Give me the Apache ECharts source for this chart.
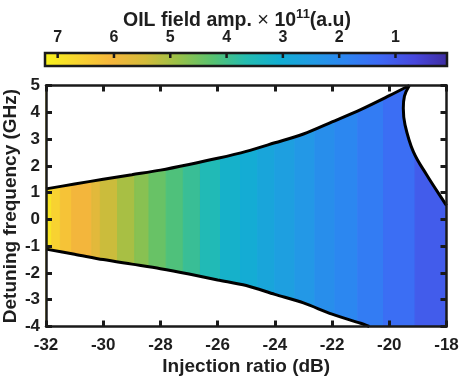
<!DOCTYPE html>
<html><head><meta charset="utf-8">
<script src="https://cdn.jsdelivr.net/npm/echarts@6/dist/echarts.min.js"></script>
<style>html,body{margin:0;padding:0;background:#fff}#c{width:474px;height:379px}</style>
</head><body><div id="c"></div>
<script>
// ---- data ----
const xRange = [-32, -18];
const yRange = [-4, 5];
const stripeEdges = [-32, -31.8, -31.5, -31.1, -30.4, -30.1, -29.5, -28.9, -28.4, -27.8, -27.2, -26.6, -25.9, -25.2, -24.6, -24.0, -23.3, -22.6, -21.9, -21.1, -20.2, -19.1, -18];
const stripeValues = [6.95, 6.6, 6.3, 6.0, 5.7, 5.35, 5.0, 4.7, 4.4, 4.15, 3.9, 3.55, 3.2, 3.0, 2.8, 2.6, 2.4, 2.15, 1.95, 1.7, 1.4, 1.05];
const upperBoundary = [[-32,1.14],[-31,1.32],[-30,1.5],[-29,1.67],[-28,1.84],[-27,2.05],[-26,2.28],[-25,2.54],[-24,2.86],[-23,3.19],[-22,3.64],[-21,4.1],[-20,4.62],[-19.3,5.0]];
const lowerBoundary = [[-32,-1.11],[-31,-1.3],[-30,-1.5],[-29,-1.67],[-28,-1.84],[-27,-2.04],[-26,-2.26],[-25,-2.47],[-24,-2.8],[-23,-3.12],[-22,-3.54],[-21,-3.88],[-20.7,-4.0]];
const rightBoundary = [[-19.3,5.0],[-19.47,4.6],[-19.51,4.15],[-19.45,3.53],[-19.16,2.53],[-18.69,1.66],[-18.05,0.6],[-18,0.52]];
const colorScale = ['#3e2ca0','#4848dc','#3e68f4','#2e84f2','#229ae4','#12aed2','#24bcb0','#58c270','#98c148','#d4bb3a','#f5b63c','#f8d430','#f8f41c'];
const cbarRange = [0.085, 7.225];
const cbarTicks = [1, 2, 3, 4, 5, 6, 7];

// ---- build ----
const stripes = stripeValues.map((v, i) => [stripeEdges[i], stripeEdges[i + 1], v]);
const TXT = '#1e1e1e';
const FONT = 'Liberation Sans';
const chart = echarts.init(document.getElementById('c'), null, {renderer: 'canvas'});
const gradStops = colorScale.map((c, i) => ({offset: 1 - i / (colorScale.length - 1), color: c}));

const mainAxisCommon = {
  type: 'value', z: 10,
  axisLine: {show: true, onZero: false, lineStyle: {color: '#1a1a1a', width: 2.5}},
  axisTick: {show: true, inside: true, length: 6, lineStyle: {color: '#1a1a1a', width: 3}},
  splitLine: {show: false}
};

chart.setOption({
  animation: false,
  title: {
    left: 'center', top: 3,
    text: '{a|OIL field amp. }{x|×}{a| 10}{s|11}{a|(a.u)}',
    textStyle: {
      rich: {
        a: {fontFamily: FONT, fontWeight: 'bold', fontSize: 19.5, color: TXT},
        x: {fontFamily: FONT, fontWeight: 'normal', fontSize: 20, color: TXT},
        s: {fontFamily: FONT, fontWeight: 'bold', fontSize: 13, color: TXT, padding: [0, 0, 12, 0]}
      }
    }
  },
  grid: [
    {left: 46, right: 27.5, top: 85.5, bottom: 52.5, outerBoundsMode: 'none', containLabel: false},
    {left: 45, right: 27, top: 53, height: 13, outerBoundsMode: 'none', containLabel: false}
  ],
  visualMap: {
    type: 'continuous', show: false, seriesIndex: 0, dimension: 2,
    min: cbarRange[0], max: cbarRange[1], inRange: {color: colorScale}
  },
  xAxis: [
    Object.assign({}, mainAxisCommon, {
      gridIndex: 0, position: 'bottom', min: xRange[0], max: xRange[1], interval: 2,
      axisLabel: {margin: 10, fontFamily: FONT, fontWeight: 'bold', fontSize: 17, color: TXT},
      name: 'Injection ratio (dB)', nameLocation: 'middle', nameGap: 31, nameMoveOverlap: false,
      nameTextStyle: {fontFamily: FONT, fontWeight: 'bold', fontSize: 19, color: TXT}
    }),
    Object.assign({}, mainAxisCommon, {
      gridIndex: 0, position: 'top', min: xRange[0], max: xRange[1], interval: 2,
      axisLabel: {show: false}
    }),
    {
      type: 'value', gridIndex: 1, position: 'top', inverse: true, z: 10,
      min: cbarRange[0], max: cbarRange[1],
      axisLine: {show: false, onZero: false},
      axisTick: {show: false},
      axisLabel: {customValues: cbarTicks, margin: 7, fontFamily: FONT, fontWeight: 'bold', fontSize: 16, color: TXT},
      splitLine: {show: false}
    }
  ],
  yAxis: [
    Object.assign({}, mainAxisCommon, {
      gridIndex: 0, position: 'left', min: yRange[0], max: yRange[1], interval: 1,
      axisLabel: {margin: 6, fontFamily: FONT, fontWeight: 'bold', fontSize: 17, color: TXT},
      name: 'Detuning frequency (GHz)', nameLocation: 'middle', nameGap: 26, nameMoveOverlap: false,
      nameTextStyle: {fontFamily: FONT, fontWeight: 'bold', fontSize: 19, color: TXT}
    }),
    Object.assign({}, mainAxisCommon, {
      gridIndex: 0, position: 'right', min: yRange[0], max: yRange[1], interval: 1,
      axisLabel: {show: false}
    }),
    {type: 'value', gridIndex: 1, min: 0, max: 1, show: false}
  ],
  series: [
    {
      type: 'custom', xAxisIndex: 0, yAxisIndex: 0, z: 1,
      data: stripes,
      encode: {x: [0, 1]},
      renderItem: function (params, api) {
        const p1 = api.coord([api.value(0), yRange[1]]);
        const p2 = api.coord([api.value(1), yRange[0]]);
        const col = api.visual('color');
        return {
          type: 'rect',
          shape: {x: p1[0], y: p1[1], width: p2[0] - p1[0], height: p2[1] - p1[1]},
          style: {fill: col, stroke: col, lineWidth: 1}
        };
      }
    },
    {
      type: 'line', xAxisIndex: 0, yAxisIndex: 0, z: 3, data: upperBoundary,
      symbol: 'none', smooth: 0.3, lineStyle: {color: '#000', width: 3},
      areaStyle: {origin: 'end', color: '#fff', opacity: 1}
    },
    {
      type: 'line', xAxisIndex: 0, yAxisIndex: 0, z: 3, data: lowerBoundary,
      symbol: 'none', smooth: 0.3, lineStyle: {color: '#000', width: 3},
      areaStyle: {origin: 'start', color: '#fff', opacity: 1}
    },
    {
      type: 'line', xAxisIndex: 0, yAxisIndex: 0, z: 3, data: rightBoundary,
      symbol: 'none', smooth: 0.4, lineStyle: {color: '#000', width: 3},
      areaStyle: {origin: 'end', color: '#fff', opacity: 1}
    },
    {
      type: 'custom', xAxisIndex: 2, yAxisIndex: 2, z: 2,
      data: [[cbarRange[1], cbarRange[0]]],
      encode: {x: [0, 1]},
      renderItem: function (params, api) {
        const p1 = api.coord([api.value(0), 1]);
        const p2 = api.coord([api.value(1), 0]);
        return {
          type: 'rect',
          shape: {x: p1[0], y: p1[1], width: p2[0] - p1[0], height: p2[1] - p1[1]},
          style: {
            fill: {type: 'linear', x: 0, y: 0, x2: 1, y2: 0, colorStops: gradStops},
            stroke: '#1a1a1a', lineWidth: 2.5
          }
        };
      }
    },
    {
      type: 'custom', xAxisIndex: 2, yAxisIndex: 2, z: 4,
      data: cbarTicks.map(v => [v]),
      encode: {x: 0},
      renderItem: function (params, api) {
        const p = api.coord([api.value(0), 1]);
        return {
          type: 'line',
          shape: {x1: p[0], y1: p[1], x2: p[0], y2: p[1] + 5},
          style: {stroke: '#1a1a1a', lineWidth: 2.5}
        };
      }
    }
  ]
});
</script></body></html>
